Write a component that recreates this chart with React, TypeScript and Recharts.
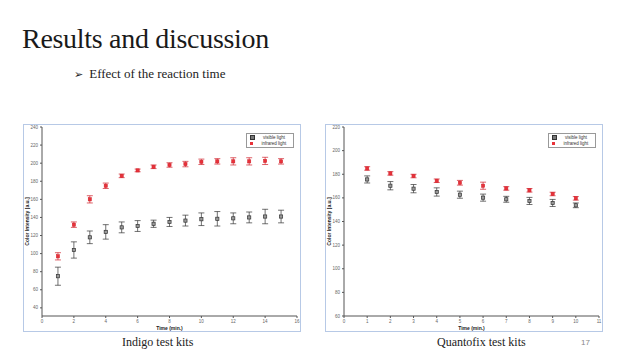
import React from "react";
import {
  ComposedChart,
  Scatter,
  ErrorBar,
  XAxis,
  YAxis,
} from "recharts";

// Indigo test kits (left)
const indigoTimes = [1, 2, 3, 4, 5, 6, 7, 8, 9, 10, 11, 12, 13, 14, 15];
const indigoVisible = [75, 104, 118, 124, 129, 130.5, 133, 135, 136.5, 138, 138.5, 139, 140, 141, 141];
const indigoVisibleErr = [10, 9, 7, 8, 6, 6, 4, 5, 6, 7, 8, 6, 6, 8, 7];
const indigoInfrared = [97, 132, 160, 175, 186, 192, 196, 198, 199, 201.5, 202, 202, 202, 202.5, 202];
const indigoInfraredErr = [4, 3, 4, 3, 2, 1.5, 2, 2.5, 3, 3, 3, 4, 4, 4, 3];
const indigoXTicks = [0, 2, 4, 6, 8, 10, 12, 14, 16];
const indigoYTicks = [40, 60, 80, 100, 120, 140, 160, 180, 200, 220, 240];

// Quantofix test kits (right)
const quantoTimes = [1, 2, 3, 4, 5, 6, 7, 8, 9, 10];
const quantoVisible = [175.6, 170.3, 167.8, 165, 162.7, 160.2, 158.8, 157.4, 155.7, 153.7];
const quantoVisibleErr = [3, 3.5, 3.5, 3.5, 3, 3, 2.5, 3, 3, 2];
const quantoInfrared = [184.9, 180.7, 178.5, 174.5, 172.8, 170.3, 168, 166.4, 163.3, 159.6];
const quantoInfraredErr = [1.5, 1.5, 1.5, 1.5, 2, 3, 1.5, 1.5, 1.5, 1.5];
const quantoXTicks = [0, 1, 2, 3, 4, 5, 6, 7, 8, 9, 10, 11];
const quantoYTicks = [60, 80, 100, 120, 140, 160, 180, 200, 220];

const seriesNames = ["visible light", "infrared light"];

const build = (xs: number[], ys: number[], errs: number[]) =>
  xs.map((t, i) => ({ t, y: ys[i], err: errs[i] }));

const GreyMark = (props: any) => {
  const { cx, cy } = props;
  if (cx == null || cy == null) return null;
  return (
    <g>
      <rect x={cx - 1.6} y={cy - 1.6} width={3.2} height={3.2} fill="#9a9a9a" stroke="#333" strokeWidth={0.7} />
    </g>
  );
};

const RedMark = (props: any) => {
  const { cx, cy } = props;
  if (cx == null || cy == null) return null;
  return <rect x={cx - 1.6} y={cy - 1.6} width={3.2} height={3.2} fill="#e8323a" stroke="#d0202a" strokeWidth={0.5} />;
};

const LegendBox = () => (
  <div
    style={{
      position: "absolute",
      top: 8,
      right: 6,
      border: "0.5px solid #999",
      background: "#fff",
      padding: "1px 3px",
      fontFamily: "Liberation Sans",
      fontSize: 4.5,
      lineHeight: "5.5px",
      color: "#333",
      width: 40,
    }}
  >
    <div style={{ display: "flex", alignItems: "center" }}>
      <span style={{ width: 3, height: 3, background: "#777", border: "0.5px solid #333", marginRight: 8 }} />
      {seriesNames[0]}
    </div>
    <div style={{ display: "flex", alignItems: "center" }}>
      <span style={{ width: 3, height: 3, background: "#e8323a", marginRight: 8.5 }} />
      {seriesNames[1]}
    </div>
  </div>
);

const tickStyle = { fontSize: 4.5, fill: "#666", fontFamily: "Liberation Sans" };

interface PanelProps {
  visible: { t: number; y: number; err: number }[];
  infrared: { t: number; y: number; err: number }[];
  xDomain: [number, number];
  yDomain: [number, number];
  xTicks: number[];
  yTicks: number[];
}

const Panel = ({ visible, infrared, xDomain, yDomain, xTicks, yTicks }: PanelProps) => (
  <ComposedChart width={276} height={206} margin={{ top: 2, right: 3, bottom: 0, left: 0 }}>
    <XAxis
      type="number"
      dataKey="t"
      domain={xDomain}
      ticks={xTicks}
      tick={tickStyle}
      tickSize={2}
      stroke="#555"
      height={15}
      allowDataOverflow
      label={{
        value: "Time (min.)",
        position: "insideBottom",
        offset: 1,
        style: { fontSize: 5, fontWeight: "bold", fill: "#222", fontFamily: "Liberation Sans" },
      }}
    />
    <YAxis
      type="number"
      dataKey="y"
      domain={yDomain}
      ticks={yTicks}
      tick={tickStyle}
      tickSize={2}
      stroke="#555"
      width={18}
      allowDataOverflow
      label={{
        value: "Color Intensity [a.u.]",
        angle: -90,
        position: "insideLeft",
        offset: 3.5,
        style: { fontSize: 5, fontWeight: "bold", fill: "#222", fontFamily: "Liberation Sans", textAnchor: "middle" },
      }}
    />
    <Scatter name={seriesNames[0]} data={visible} dataKey="y" shape={<GreyMark />} isAnimationActive={false}>
      <ErrorBar dataKey="err" direction="y" width={3} stroke="#333" strokeWidth={0.7} />
    </Scatter>
    <Scatter name={seriesNames[1]} data={infrared} dataKey="y" shape={<RedMark />} isAnimationActive={false}>
      <ErrorBar dataKey="err" direction="y" width={3} stroke="#d0202a" strokeWidth={0.7} />
    </Scatter>
  </ComposedChart>
);

const frameStyle: React.CSSProperties = {
  position: "absolute",
  top: 124,
  width: 276,
  height: 206,
  border: "1px solid #b7c9e6",
  background: "#fff",
};

const captionStyle: React.CSSProperties = {
  position: "absolute",
  top: 335,
  fontFamily: "Liberation Serif",
  fontSize: 12,
  color: "#222",
  whiteSpace: "nowrap",
};

export default function App() {
  return (
    <div
      style={{
        position: "absolute",
        left: 0,
        top: 0,
        width: 638,
        height: 359,
        background: "#fff",
        overflow: "hidden",
      }}
    >
      <div
        style={{
          position: "absolute",
          left: 22,
          top: 23,
          fontFamily: "Liberation Serif",
          fontSize: 28,
          color: "#1a1a1a",
          whiteSpace: "nowrap",
          letterSpacing: -0.3,
        }}
      >
        Results and discussion
      </div>
      <div
        style={{
          position: "absolute",
          left: 74,
          top: 66,
          fontFamily: "Liberation Serif",
          fontSize: 13,
          color: "#222",
          whiteSpace: "nowrap",
        }}
      >
        <span style={{ fontFamily: "DejaVu Sans", fontSize: 11, marginRight: 6 }}>➢</span>
        Effect of the reaction time
      </div>

      <div style={{ ...frameStyle, left: 23 }}>
        <Panel
          visible={build(indigoTimes, indigoVisible, indigoVisibleErr)}
          infrared={build(indigoTimes, indigoInfrared, indigoInfraredErr)}
          xDomain={[0, 16]}
          yDomain={[31, 240]}
          xTicks={indigoXTicks}
          yTicks={indigoYTicks}
        />
        <LegendBox />
      </div>
      <div style={{ ...frameStyle, left: 325 }}>
        <Panel
          visible={build(quantoTimes, quantoVisible, quantoVisibleErr)}
          infrared={build(quantoTimes, quantoInfrared, quantoInfraredErr)}
          xDomain={[0, 11]}
          yDomain={[60, 220]}
          xTicks={quantoXTicks}
          yTicks={quantoYTicks}
        />
        <LegendBox />
      </div>

      <div style={{ ...captionStyle, left: 122 }}>Indigo test kits</div>
      <div style={{ ...captionStyle, left: 437 }}>Quantofix test kits</div>
      <div style={{ ...captionStyle, left: 581, fontSize: 8, color: "#888", top: 338, fontFamily: "Liberation Sans" }}>17</div>
    </div>
  );
}
